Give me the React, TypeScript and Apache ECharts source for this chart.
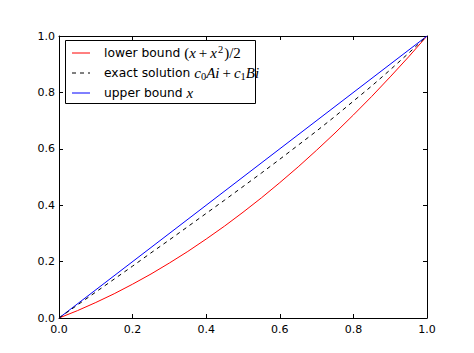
import React, { useEffect, useRef } from "react";
import * as echarts from "echarts";

const xs = [0, 0.05, 0.1, 0.15, 0.2, 0.25, 0.3, 0.35, 0.4, 0.45, 0.5, 0.55, 0.6, 0.65, 0.7, 0.75, 0.8, 0.85, 0.9, 0.95, 1.0];
const lowerBound = [0, 0.026, 0.055, 0.086, 0.12, 0.156, 0.195, 0.236, 0.28, 0.326, 0.375, 0.426, 0.48, 0.536, 0.595, 0.656, 0.72, 0.786, 0.855, 0.926, 1.0];
const exactSolution = [0, 0.046, 0.092, 0.138, 0.184, 0.231, 0.277, 0.324, 0.371, 0.418, 0.466, 0.514, 0.563, 0.613, 0.663, 0.715, 0.769, 0.823, 0.88, 0.939, 1.0];
const upperX = [0, 0.5, 1.0];
const upperBound = [0, 0.5, 1.0];

const FONT = "DejaVu Sans";
const MATH = "Liberation Serif";

export default function App() {
  const ref = useRef<HTMLDivElement>(null);
  useEffect(() => {
    if (!ref.current) return;
    const chart = echarts.init(ref.current, null, { renderer: "svg" });
    const pair = (a: number[], b: number[]) => a.map((x, i) => [x, b[i]]);
    const baseAxis = {
      type: "value" as const,
      min: 0,
      max: 1,
      interval: 0.2,
      axisLine: { show: true, onZero: false, lineStyle: { color: "#000", width: 1 } },
      axisTick: { show: true, inside: true, length: 4, lineStyle: { color: "#000", width: 1 } },
      splitLine: { show: false },
    };
    const labelStyle = {
      color: "#000",
      fontFamily: FONT,
      fontSize: 11,
      formatter: (v: number) => v.toFixed(1),
    };
    const legendRows = [
      { y: 53, color: "#ff0000", dash: null as number[] | null, rich: "lower bound {u|(}{i|x}{o|+}{i|x}{p|2}{u|)/2}" },
      { y: 73, color: "#000000", dash: [4, 4], rich: "exact solution {i|c}{s|0}{i|Ai}{o|+}{i|c}{s|1}{i|Bi}" },
      { y: 93, color: "#0000ff", dash: null, rich: "upper bound {i|x}" },
    ];
    const richStyles = {
      u: { fontFamily: MATH, fontSize: 15, color: "#000" },
      o: { fontFamily: MATH, fontSize: 15, color: "#000", padding: [0, 3, 0, 3] },
      i: { fontFamily: MATH, fontSize: 15, fontStyle: "italic", color: "#000" },
      s: { fontFamily: MATH, fontSize: 10.5, color: "#000", padding: [7, 0, 0, 0] },
      p: { fontFamily: MATH, fontSize: 10.5, color: "#000", padding: [0, 1, 7, 1] },
    };
    const graphics: any[] = [
      {
        type: "rect",
        shape: { x: 65.5, y: 40.5, width: 190, height: 63 },
        style: { fill: "#fff", stroke: "#000", lineWidth: 1 },
        z: 100,
      },
    ];
    legendRows.forEach((r) => {
      graphics.push({
        type: "line",
        shape: { x1: 72, y1: r.y, x2: 90, y2: r.y },
        style: { stroke: r.color, lineWidth: 1, lineDash: r.dash || undefined },
        z: 101,
      });
      graphics.push({
        type: "text",
        x: 104,
        y: r.y,
        style: {
          text: r.rich,
          fontFamily: FONT,
          fontSize: 12.3,
          fill: "#000",
          verticalAlign: "middle",
          rich: richStyles,
        },
        z: 101,
      });
    });
    chart.setOption({
      animation: false,
      backgroundColor: "#fff",
      grid: { left: 59, top: 36, width: 368, height: 282, containLabel: false },
      xAxis: [
        { ...baseAxis, position: "bottom", axisLabel: { ...labelStyle, margin: 6 } },
        { ...baseAxis, position: "top", axisLabel: { show: false } },
      ],
      yAxis: [
        { ...baseAxis, position: "left", axisLabel: { ...labelStyle, margin: 4 } },
        { ...baseAxis, position: "right", axisLabel: { show: false } },
      ],
      series: [
        {
          name: "upper bound",
          type: "line",
          data: pair(upperX, upperBound),
          showSymbol: false,
          symbol: "none",
          lineStyle: { color: "#0000ff", width: 1 },
          z: 3,
        },
        {
          name: "exact solution",
          type: "line",
          data: pair(xs, exactSolution),
          showSymbol: false,
          symbol: "none",
          lineStyle: { color: "#000", width: 1, type: [4, 4] },
          z: 4,
        },
        {
          name: "lower bound",
          type: "line",
          data: pair(xs, lowerBound),
          showSymbol: false,
          symbol: "none",
          lineStyle: { color: "#ff0000", width: 1 },
          z: 2,
        },
      ],
      graphic: graphics,
    });
    return () => chart.dispose();
  }, []);
  return <div ref={ref} style={{ width: 474, height: 353, position: "absolute", left: 0, top: 0 }} />;
}
